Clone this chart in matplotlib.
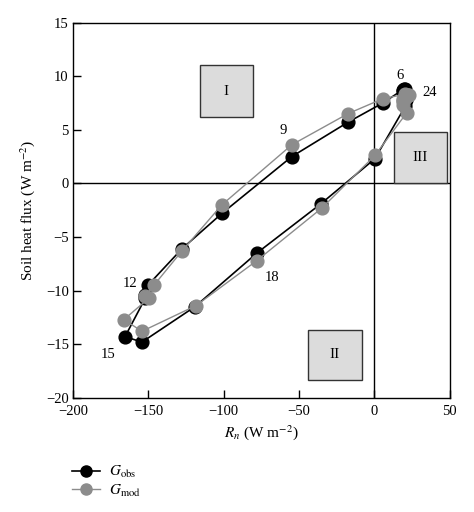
import matplotlib
matplotlib.use("Agg")
import matplotlib.pyplot as plt
from matplotlib.patches import Rectangle
from matplotlib.lines import Line2D

plt.rcParams['font.family'] = ['Liberation Serif', 'DejaVu Serif']
plt.rcParams['mathtext.fontset'] = 'stix'

# hours 6 .. 24, then 1 .. 5 (loop)
hours = [6, 7, 8, 9, 10, 11, 12, 13, 14, 15, 16, 17, 18, 19, 20, 21, 22, 23, 24, 1, 2, 3, 4, 5]
rn_obs = [19.5, 5.6, -17.6, -54.8, -101.2, -127.7, -150.3, -152.5, -152.0, -165.5, -154.2, -119.1, -78.0, -35.5, 0.3,
          20.5, 21.0, 21.0, 20.0, 19.5, 19.0, 19.0, 19.5, 20.0]
g_obs = [8.8, 7.5, 5.7, 2.5, -2.8, -6.1, -9.5, -10.4, -10.7, -14.3, -14.8, -11.5, -6.5, -1.9, 2.3,
         7.2, 7.8, 8.1, 8.3, 8.5, 8.6, 8.7, 8.7, 8.8]
rn_mod = [20.0, 5.6, -17.6, -54.8, -101.2, -127.7, -146.3, -152.3, -149.6, -166.2, -154.3, -118.4, -78.0, -34.9, 0.3,
          21.5, 19.0, 19.0, 22.0, 23.0, 21.0, 20.0, 19.0, 19.0]
g_mod = [8.3, 7.9, 6.5, 3.6, -2.0, -6.3, -9.5, -10.5, -10.7, -12.7, -13.8, -11.4, -7.2, -2.3, 2.6,
         6.6, 7.3, 7.7, 8.2, 8.2, 8.1, 8.0, 7.9, 7.7]

hour_labels = ['6', '9', '12', '15', '18', '24']
label_x = [16.8, -60.7, -162.2, -176.8, -68.0, 36.7]
label_y = [10.05, 4.9, -9.3, -16.0, -8.75, 8.5]

boxes = ['I', 'II', 'III']
box_x0 = [-115.8, -44.2, 12.9]
box_x1 = [-80.6, -8.4, 48.0]
box_y0 = [6.2, -18.3, 0.0]
box_y1 = [11.0, -13.7, 4.75]

x_ticks = [-200, -150, -100, -50, 0, 50]
y_ticks = [-20, -15, -10, -5, 0, 5, 10, 15]

fig = plt.figure(figsize=(4.74, 5.12), dpi=100)
ax = fig.add_axes([0.154, 0.223, 0.795, 0.733])

ax.axhline(0, color='black', lw=1.0, zorder=1)
ax.axvline(0, color='black', lw=1.0, zorder=1)

for name, x0, x1, y0, y1 in zip(boxes, box_x0, box_x1, box_y0, box_y1):
    ax.add_patch(Rectangle((x0, y0), x1 - x0, y1 - y0, facecolor='#dcdcdc',
                           edgecolor='#333333', lw=1.0, zorder=2))
    ax.text((x0 + x1) / 2, (y0 + y1) / 2, name, ha='center', va='center',
            fontsize=11, zorder=3)

ax.plot(rn_obs + rn_obs[:1], g_obs + g_obs[:1], '-', color='black', lw=1.2, zorder=4)
ax.plot(rn_obs, g_obs, 'o', color='black', ms=9.2, zorder=5)
ax.plot(rn_mod + rn_mod[:1], g_mod + g_mod[:1], '-', color='#8c8c8c', lw=1.0, zorder=6)
ax.plot(rn_mod, g_mod, 'o', color='#8c8c8c', ms=9.2, zorder=7)

for t, x, y in zip(hour_labels, label_x, label_y):
    ax.text(x, y, t, ha='center', va='center', fontsize=10.5, zorder=8)

ax.set_xlim(-200, 50)
ax.set_ylim(-20, 15)
ax.set_xticks(x_ticks)
ax.set_yticks(y_ticks)
ax.set_xticklabels([str(v).replace('-', '\u2212') for v in x_ticks])
ax.set_yticklabels([str(v).replace('-', '\u2212') for v in y_ticks])
ax.tick_params(direction='in', length=6, width=1.0, labelsize=10.5)
ax.tick_params(axis='x', pad=5)
ax.tick_params(axis='y', pad=3)
for s in ax.spines.values():
    s.set_linewidth(1.0)

ax.set_xlabel(r'$R_n$ (W m$^{-2}$)', fontsize=11, labelpad=4)
ax.set_ylabel(r'Soil heat flux (W m$^{-2}$)', fontsize=11, labelpad=6)

h1 = Line2D([], [], color='black', lw=1.2, marker='o', ms=8)
h2 = Line2D([], [], color='#8c8c8c', lw=1.0, marker='o', ms=8)
fig.legend([h1, h2], [r'$G_{\mathrm{obs}}$', r'$G_{\mathrm{mod}}$'], loc='upper left',
           bbox_to_anchor=(0.14, 0.105), frameon=False, fontsize=11,
           handlelength=1.8, handletextpad=0.6, labelspacing=0.15, borderaxespad=0)

fig.savefig('out.png', dpi=100)
